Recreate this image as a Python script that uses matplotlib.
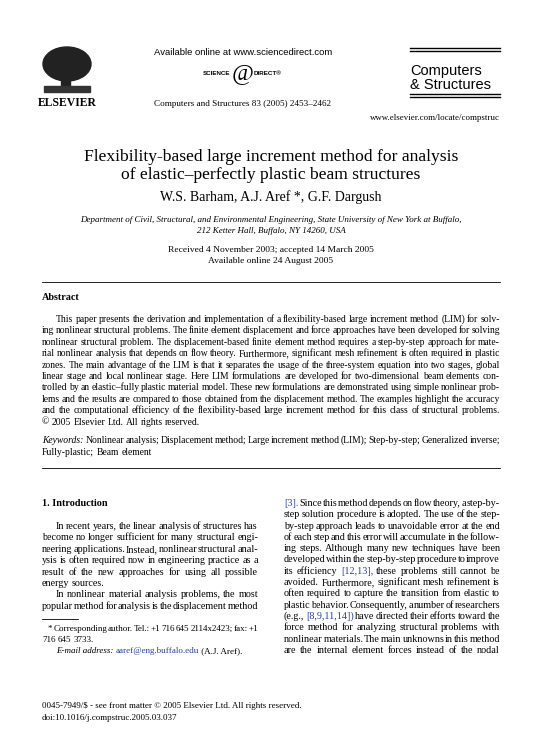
import matplotlib
matplotlib.use("Agg")
import matplotlib.pyplot as plt
from matplotlib.patches import Ellipse, Rectangle

W, H = 544, 743
fig = plt.figure(figsize=(W/100, H/100), dpi=100)
ax = fig.add_axes([0, 0, 1, 1])
ax.set_xlim(0, W); ax.set_ylim(H, 0); ax.axis("off")
SERIF = "Liberation Serif"
SANS = "Liberation Sans"
BLUE = "#2a3fa0"
BODY = 7.3
ABS = 6.95
FOOT = 6.5

fig.canvas.draw()
R = fig.canvas.get_renderer()

def px_w(s, **kw):
    t = ax.text(0, 0, s, **kw)
    bb = t.get_window_extent(R)
    t.remove()
    return bb.width

def is_link(w):
    return ("[" in w) or ("@" in w)

def line(x0, x1, y, s, justify=True, size=BODY, style="normal"):
    words = s.split(" ")
    common = dict(fontsize=size, family=SERIF, style=style, va="baseline")
    widths = [px_w(w, **common) for w in words]
    sp = px_w("a a", **common) - px_w("aa", **common)
    total = sum(widths)
    if justify and len(words) > 1:
        gap = (x1 - x0 - total) / (len(words) - 1)
    else:
        gap = sp
    x = x0
    for w, wd in zip(words, widths):
        ax.text(x, y, w, color=BLUE if is_link(w) else "black", **common)
        x += wd + gap

def chain(x, y, parts, size):
    for s, kw in parts:
        common = dict(fontsize=size, family=SERIF, va="baseline")
        common.update(kw)
        ax.text(x, y, s, **common)
        x += px_w(s, **common)
    return x

# header
ax.add_patch(Ellipse((67, 64), 48, 34, color="#222"))
ax.add_patch(Rectangle((61, 68), 9, 22, color="#222"))
ax.add_patch(Rectangle((44, 86), 46, 6, color="#333"))
ax.text(67, 106, "ELSEVIER", fontsize=8.5, family=SERIF, weight="bold", ha="center", va="baseline")
ax.text(243, 55, "Available online at www.sciencedirect.com", fontsize=6.8, family=SANS, ha="center", va="baseline")
ax.text(230, 75, "SCIENCE", fontsize=4.5, family=SANS, weight="bold", ha="right", va="baseline")
ax.text(242, 79, "@", fontsize=17, family=SERIF, style="italic", ha="center", va="baseline")
ax.text(254, 75, "DIRECT\u00ae", fontsize=4.5, family=SANS, weight="bold", ha="left", va="baseline")
ax.text(243, 106, "Computers and Structures 83 (2005) 2453\u20132462", fontsize=6.6, family=SERIF, ha="center", va="baseline")
for yy in (48, 51, 94, 97):
    ax.plot([410, 500], [yy, yy], color="black", lw=1.0)
ax.text(410, 75, "Computers", fontsize=10.5, family=SANS, va="baseline")
ax.text(410, 89, "& Structures", fontsize=10.5, family=SANS, va="baseline")
ax.text(500, 120, "www.elsevier.com/locate/compstruc", fontsize=6.4, family=SERIF, ha="right", va="baseline")

# title
ax.text(271, 161, "Flexibility-based large increment method for analysis", fontsize=12.6, family=SERIF, ha="center", va="baseline")
ax.text(271, 179, "of elastic\u2013perfectly plastic beam structures", fontsize=12.6, family=SERIF, ha="center", va="baseline")
ax.text(271, 201, "W.S. Barham, A.J. Aref *, G.F. Dargush", fontsize=10, family=SERIF, ha="center", va="baseline")
ax.text(271, 222, "Department of Civil, Structural, and Environmental Engineering, State University of New York at Buffalo,", fontsize=6.5, family=SERIF, style="italic", ha="center", va="baseline")
ax.text(271, 233, "212 Ketter Hall, Buffalo, NY 14260, USA", fontsize=6.5, family=SERIF, style="italic", ha="center", va="baseline")
ax.text(271, 252, "Received 4 November 2003; accepted 14 March 2005", fontsize=6.8, family=SERIF, ha="center", va="baseline")
ax.text(271, 263, "Available online 24 August 2005", fontsize=6.8, family=SERIF, ha="center", va="baseline")

ax.plot([42, 500], [282, 282], color="black", lw=0.6)
ax.text(42, 300, "Abstract", fontsize=BODY, family=SERIF, weight="bold", va="baseline")
abstract = [
 "This paper presents the derivation and implementation of a flexibility-based large increment method (LIM) for solv-",
 "ing nonlinear structural problems. The finite element displacement and force approaches have been developed for solving",
 "nonlinear structural problem. The displacement-based finite element method requires a step-by-step approach for mate-",
 "rial nonlinear analysis that depends on flow theory. Furthermore, significant mesh refinement is often required in plastic",
 "zones. The main advantage of the LIM is that it separates the usage of the three-system equation into two stages, global",
 "linear stage and local nonlinear stage. Here LIM formulations are developed for two-dimensional beam elements con-",
 "trolled by an elastic\u2013fully plastic material model. These new formulations are demonstrated using simple nonlinear prob-",
 "lems and the results are compared to those obtained from the displacement method. The examples highlight the accuracy",
 "and the computational efficiency of the flexibility-based large increment method for this class of structural problems.",
 "\u00a9 2005 Elsevier Ltd. All rights reserved.",
]
y = 322
for i, s in enumerate(abstract):
    x0 = 56 if i == 0 else 42
    line(x0, 500, y, s, justify=i < len(abstract) - 1, size=ABS)
    y += 11.4
kx = 42 + px_w("Keywords: ", fontsize=ABS, family=SERIF, style="italic")
ax.text(42, 443, "Keywords:", fontsize=ABS, family=SERIF, style="italic", va="baseline")
line(kx, 500, 443, "Nonlinear analysis; Displacement method; Large increment method (LIM); Step-by-step; Generalized inverse;", size=ABS)
line(42, 500, 455, "Fully-plastic; Beam element", justify=False, size=ABS)
ax.plot([42, 500], [468, 468], color="black", lw=0.6)

ax.text(42, 506, "1. Introduction", fontsize=BODY, family=SERIF, weight="bold", va="baseline")
left = [
 (56, "In recent years, the linear analysis of structures has", True),
 (42, "become no longer sufficient for many structural engi-", True),
 (42, "neering applications. Instead, nonlinear structural anal-", True),
 (42, "ysis is often required now in engineering practice as a", True),
 (42, "result of the new approaches for using all possible", True),
 (42, "energy sources.", False),
 (56, "In nonlinear material analysis problems, the most", True),
 (42, "popular method for analysis is the displacement method", True),
]
y = 529
for x0, s, j in left:
    line(x0, 258, y, s, justify=j)
    y += 11.4
ax.plot([42, 78], [619, 619], color="black", lw=0.6)
line(48, 258, 631, "* Corresponding author. Tel.: +1 716 645 2114x2423; fax: +1", size=FOOT)
line(42, 258, 642, "716 645 3733.", size=FOOT, justify=False)
chain(56, 653, [("E-mail address: ", {"style": "italic"}),
                ("aaref@eng.buffalo.edu", {"color": BLUE}),
                (" (A.J. Aref).", {})], FOOT)

right = [
 "[3]. Since this method depends on flow theory, a step-by-",
 "step solution procedure is adopted. The use of the step-",
 "by-step approach leads to unavoidable error at the end",
 "of each step and this error will accumulate in the follow-",
 "ing steps. Although many new techniques have been",
 "developed within the step-by-step procedure to improve",
 "its efficiency [12,13], these problems still cannot be",
 "avoided. Furthermore, significant mesh refinement is",
 "often required to capture the transition from elastic to",
 "plastic behavior. Consequently, a number of researchers",
 "(e.g., [8,9,11,14]) have directed their efforts toward the",
 "force method for analyzing structural problems with",
 "nonlinear materials. The main unknowns in this method",
 "are the internal element forces instead of the nodal",
]
y = 506
for s in right:
    line(284, 500, y, s)
    y += 11.3

ax.text(42, 708, "0045-7949/$ - see front matter \u00a9 2005 Elsevier Ltd. All rights reserved.", fontsize=FOOT, family=SERIF, va="baseline")
ax.text(42, 720, "doi:10.1016/j.compstruc.2005.03.037", fontsize=FOOT, family=SERIF, va="baseline")

fig.savefig("out.png", dpi=100, facecolor="white")
